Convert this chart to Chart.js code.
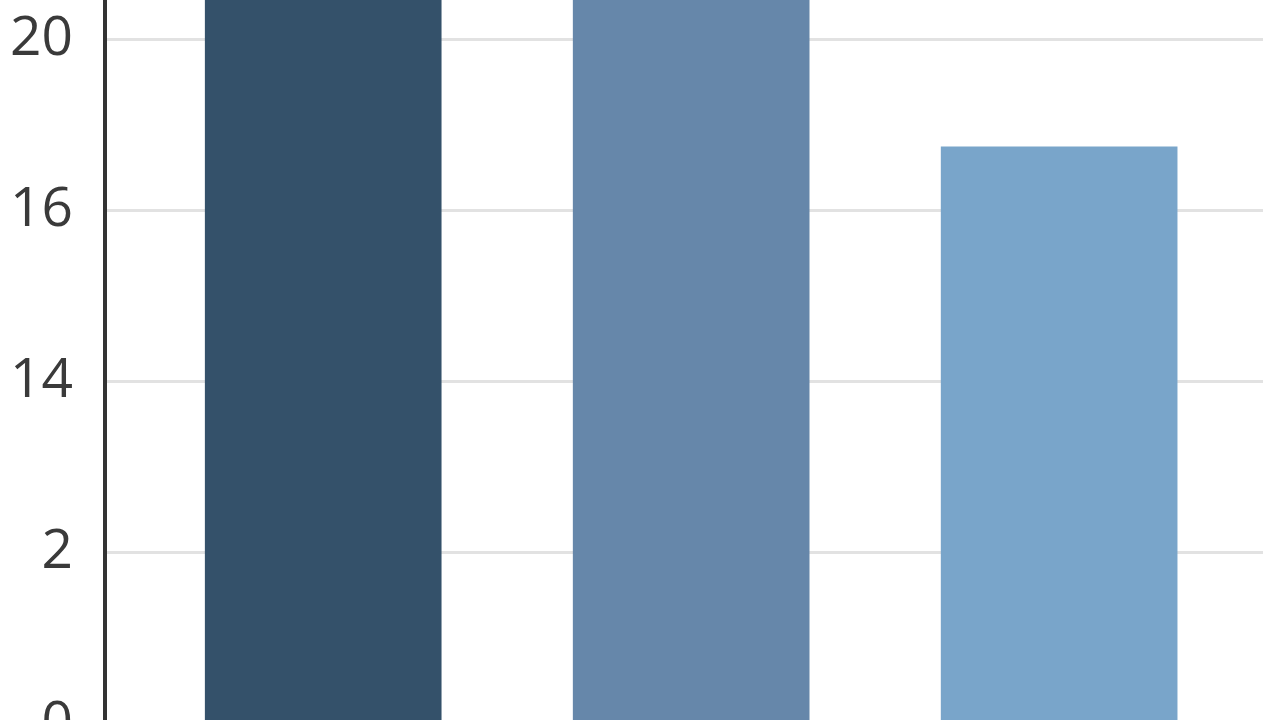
<!DOCTYPE html>
<html>
<head>
<meta charset="utf-8">
<script src="https://cdn.jsdelivr.net/npm/chart.js@4"></script>
<style>
  html, body { margin: 0; padding: 0; background: #fff; overflow: hidden; }
  #wrap { width: 1280px; height: 760px; }
</style>
</head>
<body>
<div id="wrap"><canvas id="barChart"></canvas></div>
<script>
// categories (not shown in the crop) and bar heights in axis steps
const categories = ['A', 'B', 'C'];
const values = [5.2, 5.2, 3.37];
const barColors = ['#34516a', '#6687aa', '#79a5ca'];
// tick labels as printed on the axis, one per grid step
const tickLabels = ['0', '2', '14', '16', '20'];

const ctx = document.getElementById('barChart').getContext('2d');
new Chart(ctx, {
  type: 'bar',
  data: {
    labels: categories,
    datasets: [{
      data: values.map((v, i) => ({ x: i, y: v })),
      backgroundColor: barColors,
      borderWidth: 0,
      barThickness: 236
    }]
  },
  options: {
    responsive: true,
    maintainAspectRatio: false,
    animation: false,
    layout: { padding: { top: 0, right: 17, bottom: 36, left: 0 } },
    plugins: { legend: { display: false }, tooltip: { enabled: false } },
    scales: {
      x: {
        type: 'linear',
        display: false,
        offset: false,
        bounds: 'data',
        min: -0.593,
        max: 2.554,
        afterBuildTicks: (scale) => {
          scale.ticks = categories.map((_, i) => ({ value: i }));
        },
        afterFit: (scale) => {
          scale.paddingLeft = 0;
          scale.paddingRight = 0;
        }
      },
      y: {
        min: 0,
        max: 4.228,
        bounds: 'data',
        afterBuildTicks: (scale) => {
          scale.ticks = tickLabels.map((_, i) => ({ value: i }));
        },
        afterFit: (scale) => {
          scale.width = 105;
          scale.paddingTop = 0;
          scale.paddingBottom = 0;
        },
        border: { display: true, color: '#333', width: 4 },
        grid: { color: '#e2e2e2', lineWidth: 3, drawTicks: false },
        ticks: {
          padding: 32,
          color: '#3a3a3a',
          font: { family: 'Open Sans', size: 55 },
          callback: (v) => tickLabels[v]
        }
      }
    }
  }
});
</script>
</body>
</html>
